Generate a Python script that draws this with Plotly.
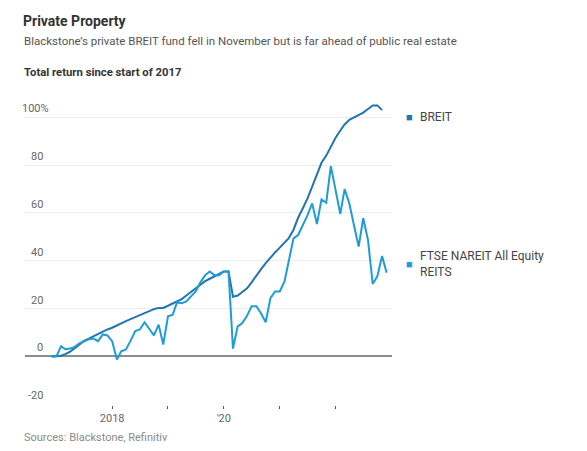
import pandas as pd
import plotly.graph_objects as go

# monthly total return since start of 2017, %
dates = pd.date_range("2016-12-01", periods=73, freq="MS")

breit = [0, 0, 0.3, 1, 2, 3.5, 5, 6.5, 7.5, 8.5,
         9.5, 10.5, 11.3, 12, 13, 14, 14.8, 15.6, 16.5, 17.4,
         18.2, 19, 19.8, 20.3, 20.3, 21.2, 22.2, 23, 24, 25.5,
         27, 28.5, 30, 31.5, 32.5, 33.5, 34.5, 35.5, 35.5,
         25, 25.5, 27, 28.5, 31, 34, 36.5, 39, 41.5, 43.5,
         45.5, 47.5, 49.5, 53, 58, 62, 66, 71, 76, 81,
         84, 88, 91.5, 94.5, 97, 99, 100, 101, 102, 103.5,
         105, 105, 103]

ftse = [0, 0, 4.3, 3, 3.3, 4, 5.5, 6.5, 7.2, 7.5,
        6.4, 9.2, 8.8, 6.4, -1.3, 2.2, 2.9, 6.5, 10.6, 11.3,
        14.3, 11.5, 8.8, 13.3, 5, 16.8, 17.5, 22.6, 22.3, 23,
        25, 27.2, 31, 34, 35.5, 34, 34, 35.5, 35.5, 3.3,
        12.6, 14, 17, 21, 21, 18, 14.3, 24.4, 27.2, 27.2,
        31.4, 39.7, 49.4, 50.8, 55, 59, 64, 55.4, 65.7, 64.3,
        79.6, 70, 59.6, 70, 64, 55, 46, 57.8, 48.7, 30.3,
        33.5, 42, 35]

y_ticks = [-20, 0, 20, 40, 60, 80, 100]
y_ticktext = ["-20", "0", "20", "40", "60", "80", "100%"]
x_ticks = ["2018-01-01", "2019-01-01", "2020-01-01", "2021-01-01", "2022-01-01"]
x_ticktext = ["2018", "", "'20", "", ""]

breit_color = "#1f76b0"
ftse_color = "#1e9cd8"
font = "Roboto, sans-serif"

# the page has an 8px body margin, so the figure is 8px smaller than the window
W, H = 579, 443
L, R, T, B = 17, 195, 95, 46


def px(xp):
    # horizontal position in the reference picture -> paper x
    return (xp - 25) / (W - L - R)


def py(yp):
    # vertical position in the reference picture -> paper y
    return (H - B + 8 - yp) / (H - T - B)


fig = go.Figure()
fig.add_trace(go.Scatter(x=dates[:len(breit)], y=breit, mode="lines",
                         line=dict(color=breit_color, width=2), name="BREIT"))
fig.add_trace(go.Scatter(x=dates, y=ftse, mode="lines",
                         line=dict(color=ftse_color, width=2), name="FTSE NAREIT All Equity REITS"))

fig.update_layout(
    width=W, height=H,
    margin=dict(l=L, r=R, t=T, b=B),
    plot_bgcolor="white", paper_bgcolor="white",
    showlegend=False,
    font=dict(family=font, color="#555"),
    title=dict(text="<b>Private Property</b>", x=15/W, xref="container", xanchor="left",
               y=1-13/H, yanchor="middle", font=dict(size=14, color="#333")),
    xaxis=dict(type="date", range=["2016-06-10", "2023-01-05"],
               tickvals=x_ticks, ticktext=x_ticktext,
               ticks="outside", ticklen=3, tickcolor="#555", tickwidth=1,
               showgrid=False, zeroline=False, showline=False,
               tickfont=dict(size=11, color="#666")),
    yaxis=dict(range=[-20.3, 106], tickvals=y_ticks, showticklabels=False,
               showgrid=True, gridcolor="#ebebeb", gridwidth=1,
               zeroline=True, zerolinecolor="#8c8c8c", zerolinewidth=1.5),
)

annotations = [
    dict(text="Blackstone’s private BREIT fund fell in November but is far ahead of public real estate",
         x=px(22), y=py(41), font=dict(size=11.5, color="#555")),
    dict(text="<b>Total return since start of 2017</b>",
         x=px(22), y=py(73), font=dict(size=11.3, color="#333")),
    dict(text="Sources: Blackstone, Refinitiv",
         x=px(22), y=py(437), font=dict(size=11, color="#8a8a8a")),
]
for a in annotations:
    a.update(xref="paper", yref="paper", xanchor="left", yanchor="middle", showarrow=False)
    fig.add_annotation(**a)

# y tick labels sit above the gridlines, the % of the top one hangs to the right
for v, t in zip(y_ticks, y_ticktext):
    fig.add_annotation(text=t, x=px(51 if t.endswith("%") else 45), xref="paper", y=v, yref="y",
                       xanchor="right", yanchor="bottom", showarrow=False,
                       font=dict(size=11, color="#666"))

# labels on the right
labels = [("BREIT", 100, breit_color), ("FTSE NAREIT All Equity<br>REITS", 38.5, ftse_color)]
for text, yv, col in labels:
    fig.add_annotation(text="■", x=px(404), xref="paper", y=yv, yref="y",
                       xanchor="left", yanchor="middle", showarrow=False,
                       font=dict(size=11, color=col))
    fig.add_annotation(text=text, x=px(418), xref="paper", y=yv, yref="y",
                       xanchor="left", yanchor="middle", align="left", showarrow=False,
                       font=dict(size=12, color="#444"))

fig.write_html("out.html")
